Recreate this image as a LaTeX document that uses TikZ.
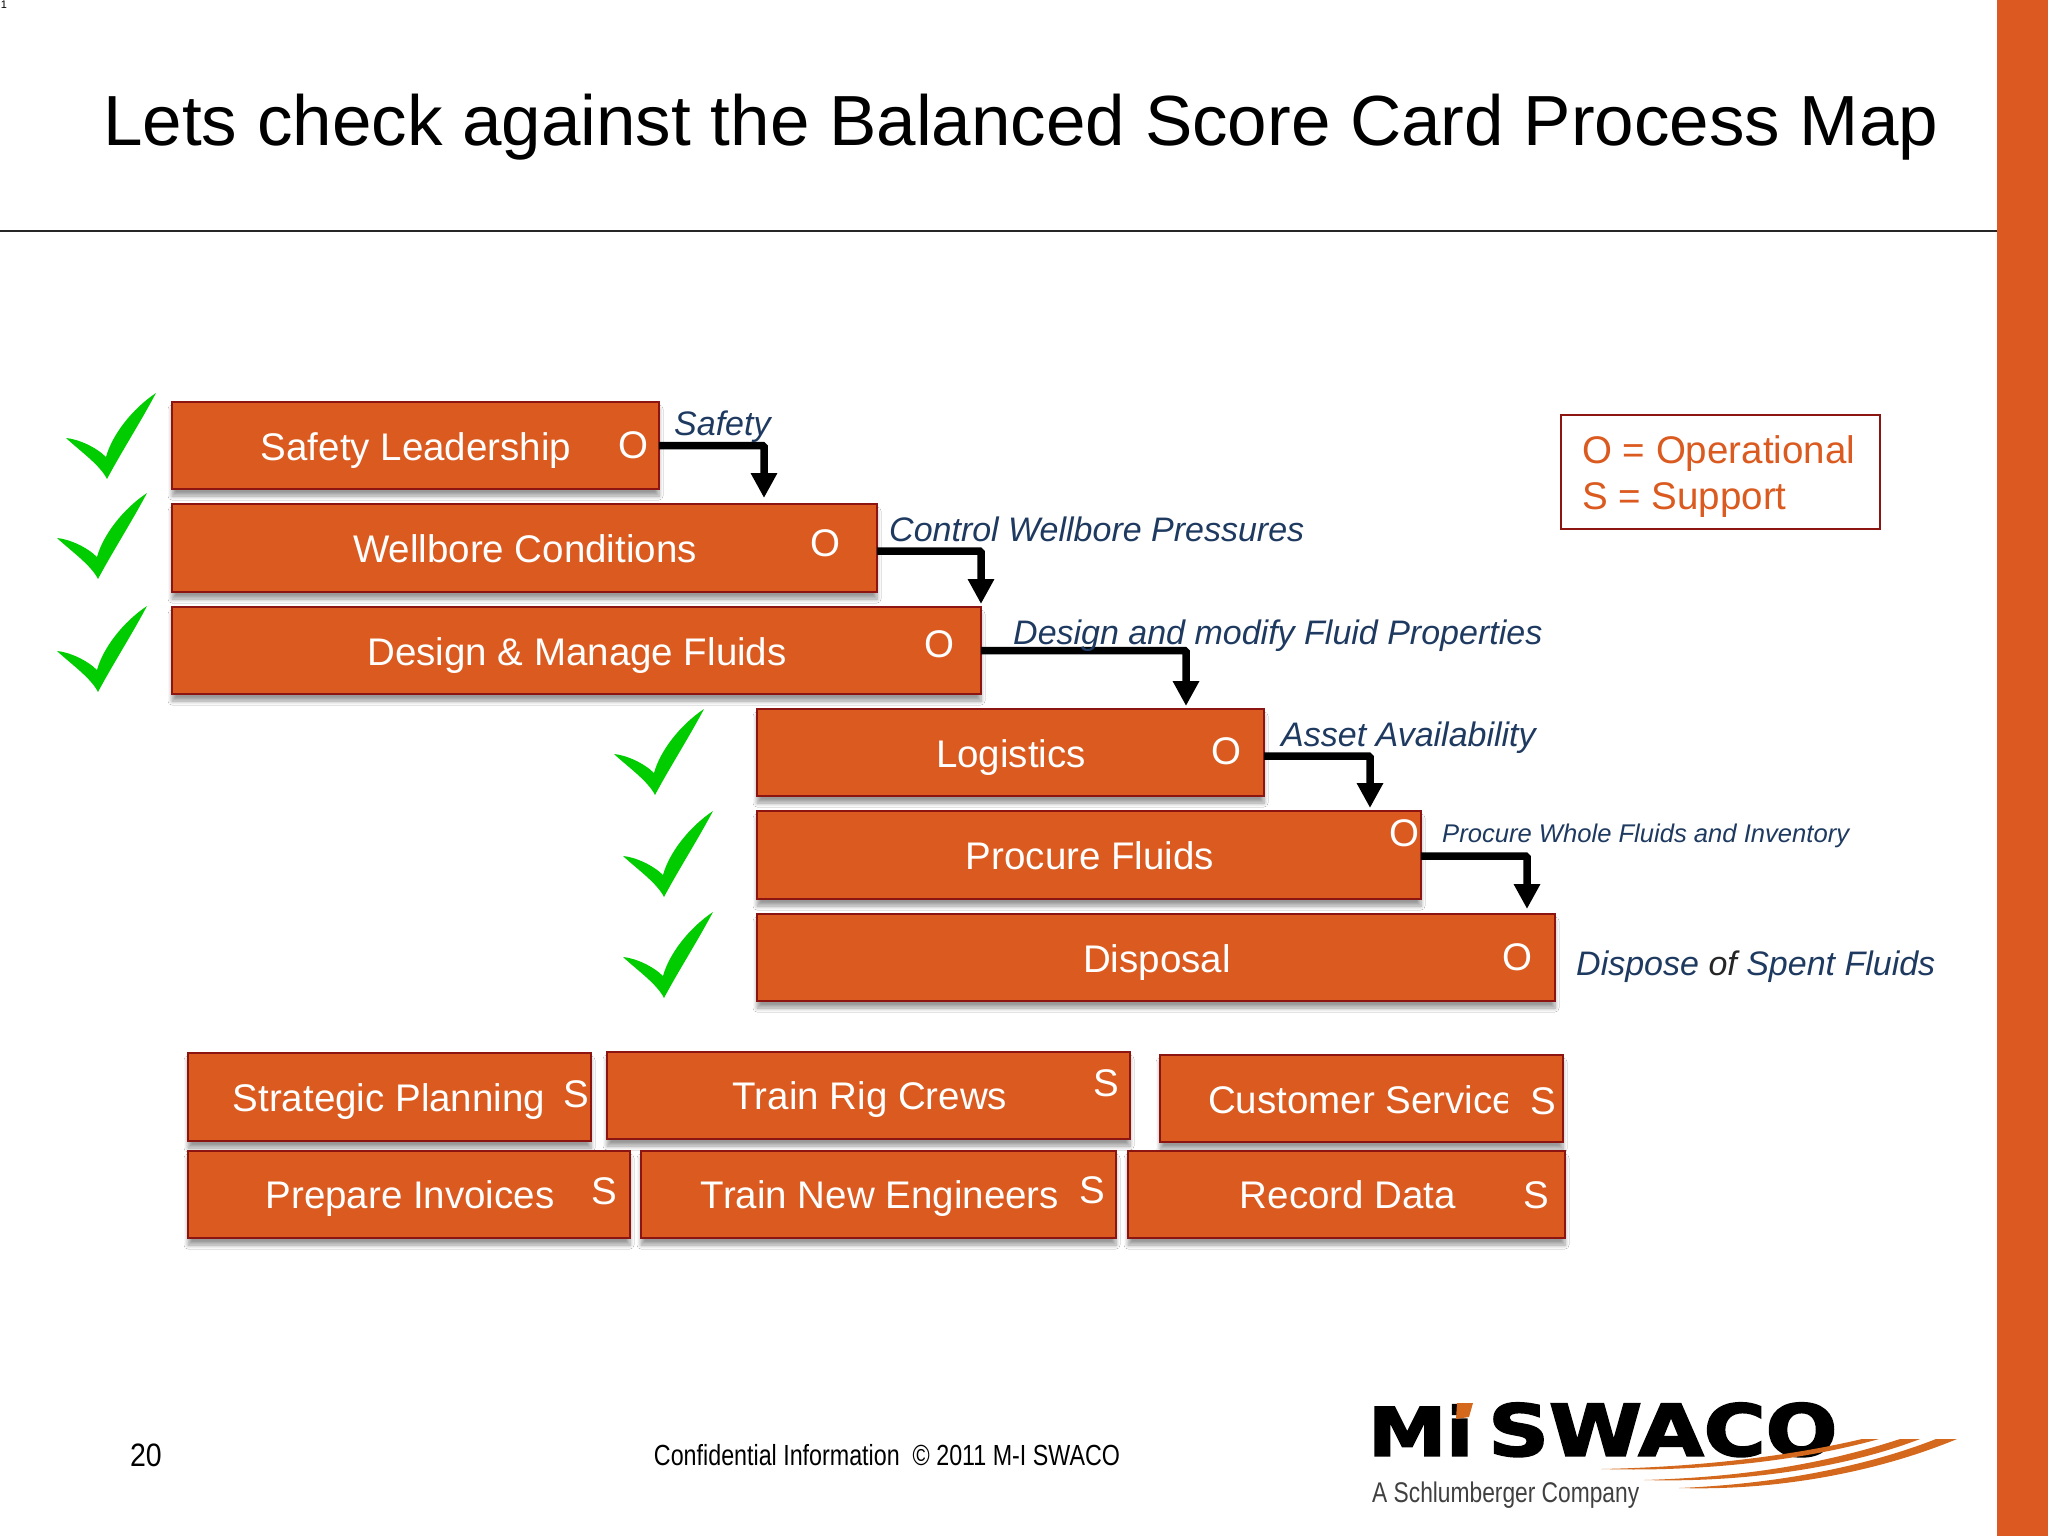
\documentclass[tikz,border=0pt]{standalone}
\usepackage{fontspec}
\setmainfont{Liberation Sans}
\newfontfamily\logofont[BoldFeatures={FakeBold=2.5}]{DejaVu Sans}
\usetikzlibrary{arrows.meta,shadows,shadows.blur}
\definecolor{bar}{HTML}{DC5A22}
\definecolor{boxfill}{HTML}{DA5A1F}
\definecolor{boxline}{HTML}{8C1512}
\definecolor{navy}{HTML}{1F3A60}
\definecolor{tick}{HTML}{00CC00}
\definecolor{swoosh}{HTML}{D4691E}
\tikzset{
  pbox/.style={draw=boxline,line width=2.5pt,fill=boxfill,inner sep=0pt,outer sep=0pt,
    blur shadow={shadow xshift=0pt,shadow yshift=-7pt,shadow blur steps=6,shadow blur radius=4pt,shadow opacity=40}},
  lab/.style={text=white,font=\fontsize{38.5}{38.5}\selectfont,text height=29pt,text depth=8pt,inner sep=0pt,xshift=1pt,yshift=-2.5pt},
  smark/.style={lab,fill=boxfill,inner sep=0pt,text depth=1pt},
  flow/.style={line width=7.5pt,-{Triangle[width=25pt,length=25pt]},rounded corners=1.5pt},
  capt/.style={text=navy,font=\itshape\fontsize{34}{34}\selectfont,anchor=west,inner sep=0pt,text height=26pt,text depth=8pt,yshift=-2.5pt},
  tickmark/.pic={\fill[tick] (-90,45) .. controls (-78,46) and (-60,54) .. (-50,64)
     .. controls (-44,42) and (-24,16) .. (0,0)
     .. controls (-16,30) and (-34,58) .. (-49,86)
     .. controls (-56,72) and (-76,58) .. (-90,45) -- cycle;}
}
\newcommand\bx[5]{\node[pbox,minimum width={(#4-#2)*1pt},minimum height={(#5-#3)*1pt}] (#1) at ({(#2+#4)/2},{(#3+#5)/2}) {};}
\begin{document}
\begin{tikzpicture}[x=1pt,y=-1pt]
\useasboundingbox (0,0) rectangle (2048,1536);
\fill[white] (0,0) rectangle (2048,1536);
\fill[bar] (1997,0) rectangle (2048,1536);
\coordinate (ruleL) at (0,231);
\coordinate (ruleR) at (1997,231);
\draw[line width=2pt,black!85] (ruleL) -- (ruleR);
\node[font=\fontsize{11}{11}\selectfont,inner sep=0pt] (pg1) at (4,5) {1};
\node[font=\fontsize{71}{71}\selectfont,anchor=base west,inner sep=0pt] (title) at (103,146) {Lets check against the Balanced Score Card Process Map};

\bx{sl}{172}{402}{659}{489}
\bx{wb}{172}{504}{877}{592}
\bx{dm}{172}{607}{981}{694}
\bx{lg}{757}{709}{1264}{796}
\bx{pf}{757}{811}{1421}{899}
\bx{dp}{757}{914}{1555}{1001}
\bx{sp}{188}{1053}{591}{1141}
\bx{tr}{607}{1052}{1130}{1139}
\bx{cs}{1160}{1055}{1563}{1142}
\bx{pi}{188}{1151}{630}{1238}
\bx{tn}{641}{1151}{1116}{1238}
\bx{rd}{1128}{1151}{1565}{1238}

\node[lab] (tsl) at (415,447) {Safety Leadership};
\node[lab] (twb) at (524,549) {Wellbore Conditions};
\node[lab] (tdm) at (576,652) {Design \& Manage Fluids};
\node[lab] (tlg) at (1010,754) {Logistics};
\node[lab] (tpf) at (1089,856) {Procure Fluids};
\node[lab] (tdp) at (1156,959) {Disposal};
\node[lab] (tsp) at (388,1098) {Strategic Planning};
\node[lab] (ttr) at (869,1096) {Train Rig Crews};
\node[lab] (tcs) at (1360,1100) {Customer Service};
\node[lab] (tpi) at (409,1195) {Prepare Invoices};
\node[lab] (ttn) at (879,1195) {Train New Engineers};
\node[lab] (trd) at (1347,1195) {Record Data};

\node[lab] (osl) at (632,445) {O};
\node[lab] (owb) at (824,543) {O};
\node[lab] (odm) at (938,644) {O};
\node[lab] (olg) at (1225,751) {O};
\node[lab] (opf) at (1403,833) {O};
\node[lab] (odp) at (1516,957) {O};
\node[lab] (ssp) at (575,1094) {S};
\node[lab] (str) at (1105,1083) {S};
\node[smark] (scs) at (1531,1098) {\hspace{22pt}S\hspace{3pt}};
\node[lab] (spi) at (603,1191) {S};
\node[lab] (stn) at (1091,1190) {S};
\node[lab] (srd) at (1535,1195) {S};

\coordinate (a1) at (764,498);
\coordinate (a2) at (981,604);
\coordinate (a3) at (1186,706);
\coordinate (a4) at (1370,808);
\coordinate (a5) at (1527,909);
\draw[flow] (sl.east) -| (a1);
\draw[flow] ([yshift=-3pt]wb.east) -| (a2);
\draw[flow] (dm.east) -| (a3);
\draw[flow] ([yshift=-3.5pt]lg.east) -| (a4);
\draw[flow] ([yshift=-1pt]pf.east) -| (a5);

\node[capt] (c1) at (674,424) {Safety};
\node[capt] (c2) at (889,530) {Control Wellbore Pressures};
\node[capt] (c3) at (1013,633) {Design and modify Fluid Properties};
\node[capt] (c4) at (1281,735) {Asset Availability};
\node[capt,font=\itshape\fontsize{25.6}{25.6}\selectfont,yshift=2.5pt] (c5) at (1442,833) {Procure Whole Fluids and Inventory};
\node[capt] (c6) at (1576,964) {Dispose {\color{black!85}of} Spent Fluids};

\node[draw=boxline,line width=2pt,minimum width=319pt,minimum height=114pt,inner sep=0pt] (legend) at (1720.5,472) {};
\node[text=boxfill,font=\fontsize{38.5}{38.5}\selectfont,anchor=west,inner sep=0pt,text height=29pt,text depth=8pt] (lg1) at (1582,453) {O = Operational};
\node[text=boxfill,font=\fontsize{38.5}{38.5}\selectfont,anchor=west,inner sep=0pt,text height=29pt,text depth=8pt] (lg2) at (1582,499) {S = Support};

\pic at (156,393) {tickmark};
\pic at (147,493) {tickmark};
\pic at (147,606) {tickmark};
\pic at (704,709) {tickmark};
\pic at (713,811) {tickmark};
\pic at (713,912) {tickmark};

\node[font=\fontsize{30}{30}\selectfont,inner sep=0pt] (num) at (146,1455) {\scalebox{.95}[1.08]{20}};
\node[font=\fontsize{27}{27}\selectfont,inner sep=0pt] (conf) at (887,1455) {\resizebox{466pt}{!}{\scalebox{.8}[1]{Confidential Information\ \ © 2011 M-I SWACO}}};

% logo
\node[anchor=south west,inner sep=0pt,font=\logofont\bfseries] (lmi) at (1368,1456) {\resizebox{105pt}{51pt}{Mi}};
\fill[swoosh] (1457,1403) -- (1473,1403) -- (1469,1417) -- (1456,1419) -- cycle;
\node[anchor=south west,inner sep=0pt,font=\logofont\bfseries] (lsw) at (1488,1457) {\resizebox{349pt}{53pt}{SWACO}};
\fill[swoosh] (1601,1469) .. controls (1700,1472) and (1800,1461) .. (1879,1439) -- (1862,1439) .. controls (1790,1456) and (1700,1467) .. cycle;
\fill[swoosh] (1644,1480) .. controls (1750,1483) and (1850,1466) .. (1920,1439) -- (1900,1439) .. controls (1830,1462) and (1750,1477) .. cycle;
\fill[swoosh] (1679,1488) .. controls (1780,1491) and (1880,1471) .. (1957,1439) -- (1936,1439) .. controls (1870,1465) and (1780,1484) .. cycle;
\node[anchor=base west,inner sep=0pt,text=black!75,font=\fontsize{28}{28}\selectfont] (lsub) at (1372,1502) {\resizebox{267pt}{!}{\scalebox{.8}[1]{A Schlumberger Company}}};
\end{tikzpicture}
\end{document}
